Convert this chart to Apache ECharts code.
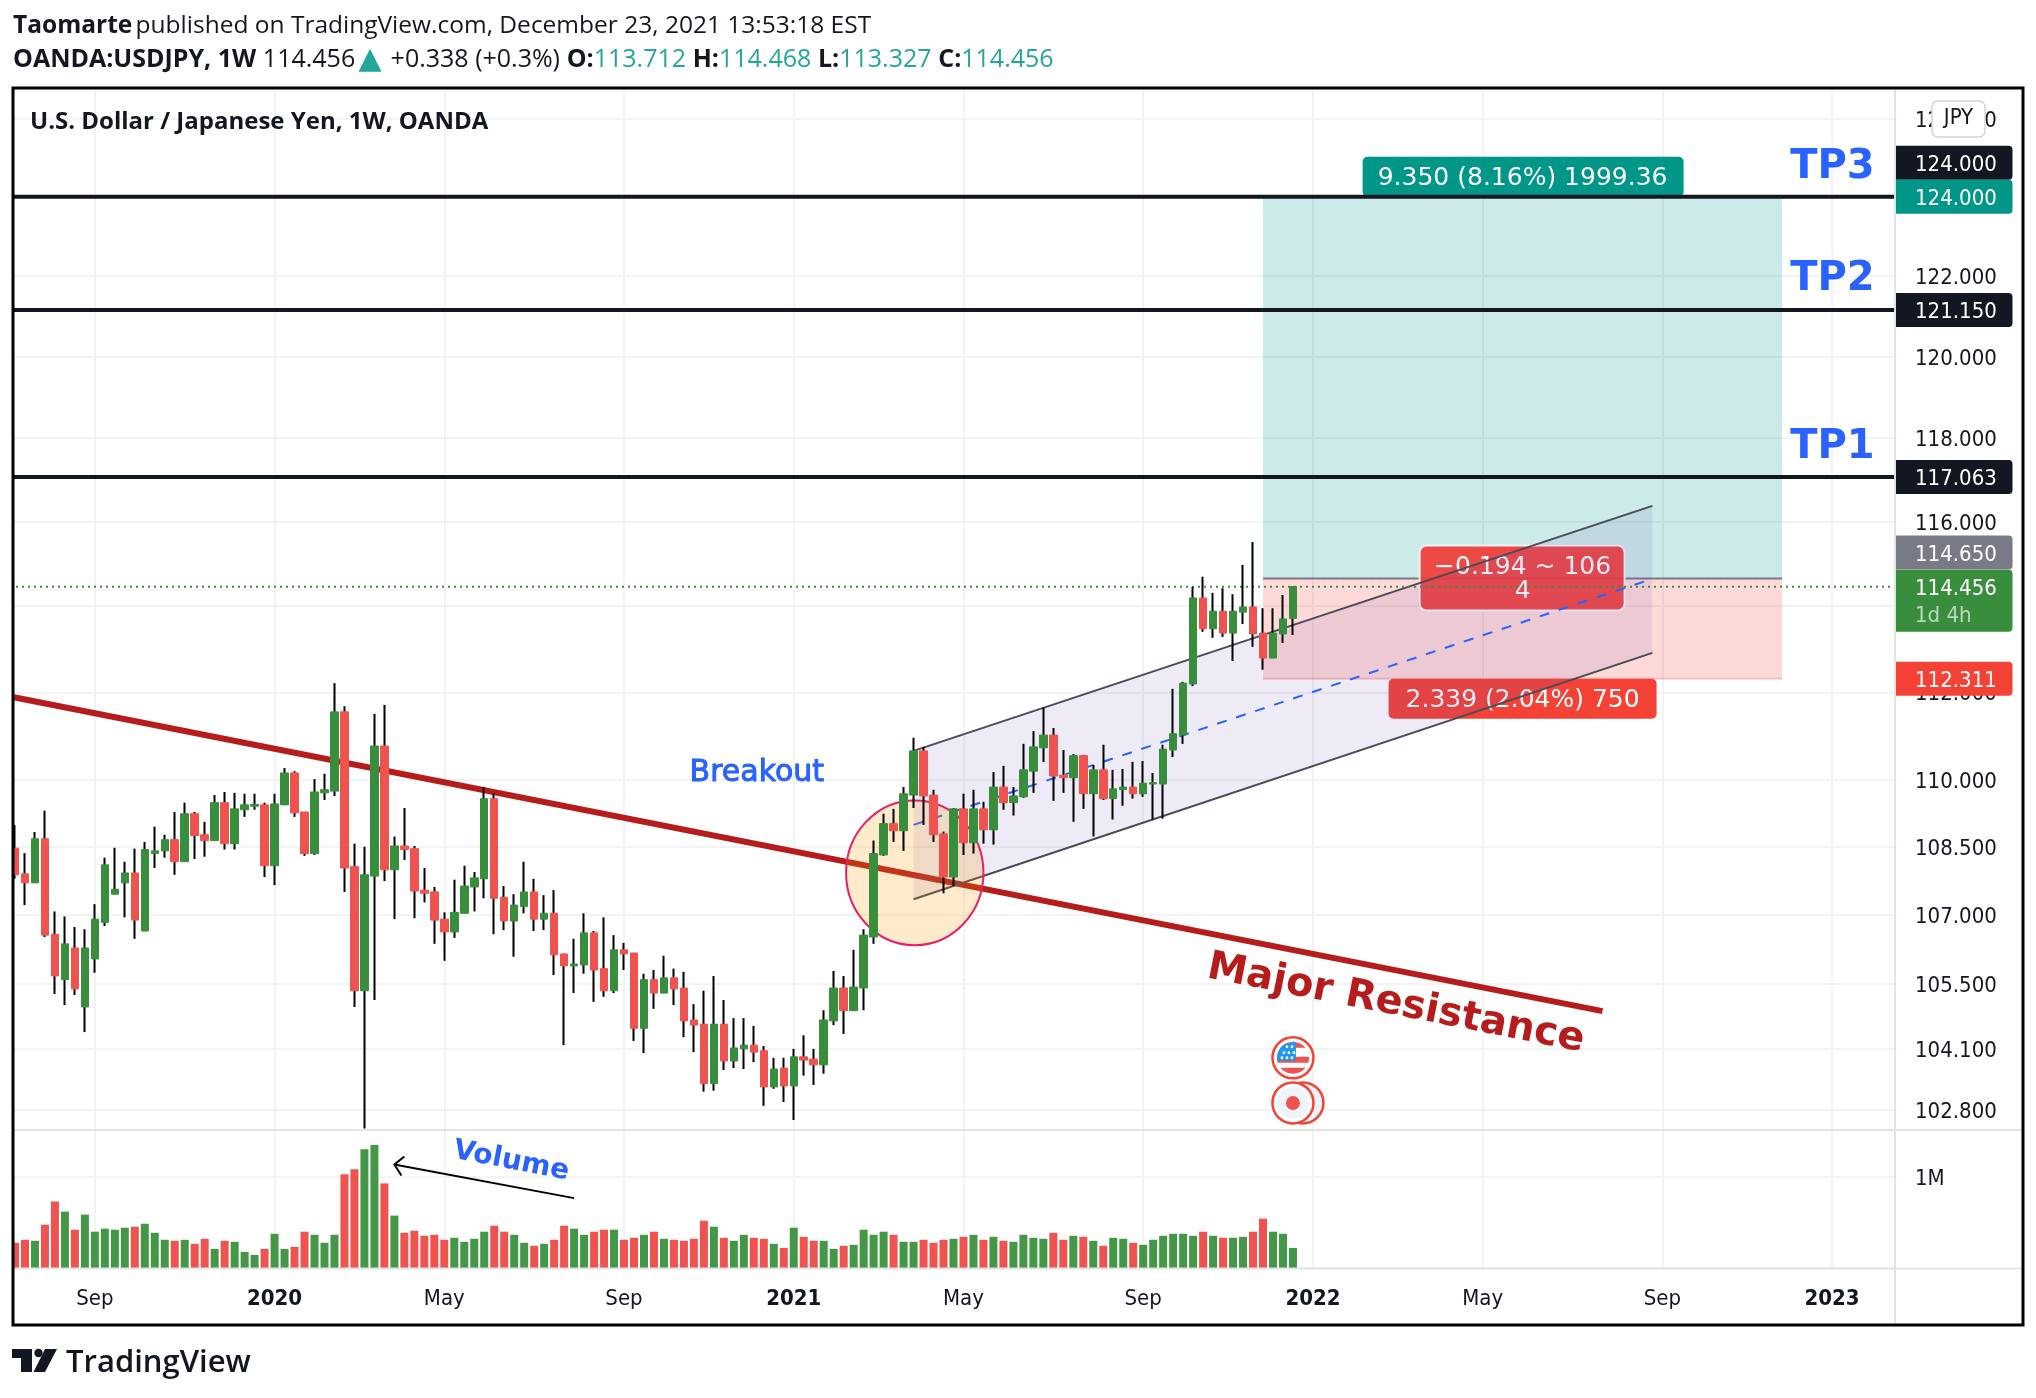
<!DOCTYPE html>
<html>
<head>
<meta charset="utf-8">
<title>USD/JPY 1W</title>
<script src="https://cdn.jsdelivr.net/npm/echarts@6/dist/echarts.min.js"></script>
<style>
    html, body { margin: 0; background: #fff; }
    #chart { width: 2036px; height: 1398px; }
</style>
</head>
<body>
<div id="chart"></div>
<script>
const opens = [
    108.47,107.90,107.70,108.68,106.57,105.58,106.27,104.99,106.03,106.83,
    107.45,107.70,107.92,106.64,108.35,108.41,108.66,108.17,109.24,108.77,
    108.64,109.49,108.57,109.33,109.41,109.44,108.08,109.44,110.16,109.28,
    108.35,109.71,109.75,111.55,108.06,105.34,107.85,110.77,107.99,108.52,
    108.46,107.54,107.50,106.90,106.62,107.03,107.61,107.79,109.58,107.38,
    106.86,107.18,107.50,106.90,107.03,106.14,105.88,105.90,106.60,105.82,
    105.34,106.23,106.16,104.53,105.58,105.29,105.62,105.40,104.71,104.62,
    103.35,104.62,103.83,104.09,104.17,104.05,103.28,103.68,103.30,103.92,
    103.87,103.75,104.69,105.40,104.91,105.40,106.51,108.32,109.02,108.86,
    109.66,110.66,109.66,108.79,107.83,109.35,108.59,109.35,108.88,109.84,
    109.49,109.62,110.20,110.73,111.02,110.11,110.05,110.55,109.69,110.23,
    109.58,109.78,109.84,109.69,109.91,109.91,110.68,111.02,112.19,114.19,
    113.47,113.88,113.37,113.86,113.98,113.37,112.79,113.35,113.712
];
const closes = [
    107.88,107.70,108.68,106.55,105.66,106.36,105.38,106.27,106.90,108.10,
    107.56,107.92,106.88,108.44,108.41,108.66,108.17,109.24,108.75,108.64,
    109.49,108.57,109.35,109.44,109.45,108.08,109.46,110.16,109.26,108.35,
    109.73,109.78,111.55,108.03,105.34,107.88,110.77,107.99,108.52,108.44,
    107.52,107.47,106.88,106.62,107.05,107.63,107.81,109.58,107.36,106.86,
    107.21,107.50,106.90,107.03,106.12,105.88,105.92,106.60,105.79,105.34,
    106.23,106.14,104.53,105.58,105.29,105.62,105.38,104.69,104.60,103.35,
    104.62,103.83,104.11,104.17,104.02,103.28,103.66,103.30,103.92,103.85,
    103.75,104.71,105.40,104.91,105.42,106.55,108.35,109.02,108.86,109.69,
    110.66,109.64,108.77,107.83,109.35,108.59,109.35,108.88,109.84,109.49,
    109.64,110.23,110.75,111.02,110.09,110.05,110.55,109.69,110.23,109.58,
    109.80,109.84,109.69,109.93,109.94,110.70,111.05,112.21,114.19,113.47,
    113.88,113.37,113.88,113.98,113.35,112.79,113.37,113.70,114.456
];
const lows = [
    107.79,107.21,107.70,106.51,105.27,105.03,105.25,104.45,105.73,106.75,
    107.45,106.94,106.47,106.64,108.03,108.26,107.88,108.17,108.23,108.28,
    108.64,108.44,108.44,109.17,109.33,107.83,107.65,109.44,109.17,108.30,
    108.32,109.55,109.64,107.50,104.99,102.40,105.14,107.74,106.90,108.21,
    106.92,107.27,106.36,105.99,106.49,107.03,107.07,107.36,106.57,106.66,
    106.08,107.03,106.64,106.66,105.68,104.17,105.29,105.71,105.10,105.21,
    105.29,105.79,104.26,104.00,104.95,105.29,105.03,104.34,104.02,103.18,
    103.20,103.64,103.68,103.66,103.81,102.88,103.24,102.96,102.58,103.52,
    103.32,103.56,104.60,104.41,104.91,104.92,106.36,108.30,108.61,108.41,
    109.37,108.99,108.61,107.47,107.63,108.32,108.35,108.57,108.55,109.33,
    109.20,109.60,109.71,110.41,109.53,109.71,109.06,109.35,108.73,109.55,
    109.11,109.42,109.58,109.62,109.11,109.13,110.52,110.82,112.14,113.40,
    113.26,113.28,112.72,113.58,113.05,112.52,112.79,113.14,113.327
];
const highs = [
    108.99,108.36,108.83,109.31,107.07,106.96,106.73,106.68,107.23,108.26,
    108.48,108.17,108.46,108.61,108.95,108.77,109.28,109.49,109.28,109.06,
    109.66,109.73,109.71,109.69,109.69,109.49,109.69,110.27,110.20,109.28,
    110.02,110.14,112.21,111.68,108.57,108.50,111.50,111.71,108.73,109.37,
    108.52,108.03,107.61,107.05,107.77,108.08,107.94,109.84,109.69,107.63,
    107.45,108.17,107.79,107.43,107.54,106.14,106.47,107.03,106.64,106.94,
    106.55,106.38,106.16,105.71,105.79,106.10,105.82,105.75,105.05,105.34,
    105.66,105.14,104.75,104.75,104.58,104.15,103.90,103.90,104.09,104.38,
    104.09,104.92,105.77,105.66,106.23,106.68,108.64,109.24,109.35,109.84,
    110.96,110.75,109.78,108.84,109.37,109.69,109.78,109.51,110.18,110.32,
    109.84,110.82,111.11,111.65,111.18,110.68,110.59,110.57,110.34,110.80,
    110.23,110.25,110.41,110.43,110.16,110.80,112.08,112.24,114.45,114.69,
    114.31,114.42,114.28,114.97,115.51,113.95,113.95,114.26,114.468
];
// volume in millions
const volumes = [
    .277,.310,.299,.476,.731,.620,.421,.587,.399,.432,
    .421,.443,.454,.487,.387,.310,.299,.310,.266,.321,
    .210,.299,.288,.177,.144,.210,.376,.210,.232,.399,
    .365,.277,.365,1.030,1.085,1.306,1.351,.930,.576,.387,
    .410,.354,.365,.310,.332,.288,.321,.399,.465,.399,
    .365,.277,.244,.266,.310,.465,.432,.365,.399,.421,
    .421,.310,.332,.365,.399,.321,.310,.299,.321,.520,
    .454,.332,.299,.365,.332,.321,.266,.221,.443,.343,
    .299,.299,.210,.244,.255,.421,.365,.399,.365,.288,
    .288,.310,.277,.310,.321,.343,.365,.310,.343,.299,
    .288,.365,.332,.321,.387,.310,.354,.343,.299,.244,
    .332,.321,.277,.255,.310,.354,.376,.376,.354,.399,
    .354,.332,.332,.343,.399,.542,.399,.376,.221
];

const priceTicks = [126, 124, 122, 120, 118, 116, 114, 112, 110, 108.5, 107, 105.5, 104.1, 102.8];
const tickWeeks = [8, 26, 43, 61, 78, 95, 113, 130, 147, 165, 182];
const tickLabels = ['Sep', '2020', 'May', 'Sep', '2021', 'May', 'Sep', '2022', 'May', 'Sep', '2023'];

const targetLevels = [124, 121.15, 117.063];
const targetNames = ['TP3', 'TP2', 'TP1'];
const targetTextPrices = [124.75, 121.9, 117.78];
const lastPrice = 114.456;
const entryPrice = 114.65;
const stopPrice = 112.311;
const positionWeeks = [125, 177];
// trend line and channel: [week, price]
const resistanceLine = [[0, 111.88], [159, 104.90]];
const channelTop = [[90, 110.66], [164, 116.37]];
const channelMid = [[90, 108.99], [164, 114.64]];
const channelLow = [[90, 107.34], [164, 112.91]];
const breakoutWeeks = [83, 97];
const breakoutPrices = [109.54, 106.33];

const RED = '#ef5350';
const GREEN = '#388e3c';
const VOL_GREEN = '#439746';
const INK = '#131722';
const BLUE = '#2962ff';
const GRID = '#f2f3f3';
const SEP = '#e2e3e5';
const AXIS_FONT = '"DejaVu Sans Condensed", "DejaVu Sans"';
const DRAW_FONT = '"DejaVu Sans"';
const UI_FONT = '"Open Sans"';

// weekly bars, first one on 8 Jul 2019, running on into the empty space on the right
const weeks = [];
for (let i = 0; i < 189; i++) {
    const d = new Date(Date.UTC(2019, 6, 8 + i * 7));
    weeks.push(d.toISOString().slice(0, 10));
}

const isTickWeek = (i) => tickWeeks.indexOf(i) >= 0;
const weekLabel = (val) => {
    const text = tickLabels[tickWeeks.indexOf(weeks.indexOf(val))];
    return /^\d/.test(text) ? '{year|' + text + '}' : text;
};

const xAxisBase = {
    type: 'category',
    data: weeks,
    axisLine: { show: false },
    axisTick: { show: false },
    splitLine: {
        show: true,
        interval: isTickWeek,
        alignWithLabel: true,
        lineStyle: { color: GRID, width: 2 }
    }
};

const chart = echarts.init(document.getElementById('chart'));

const rect = (x, y, w, h, fill, r, extra) => ({
    type: 'rect',
    shape: { x, y, width: w, height: h, r: r || 0 },
    style: Object.assign({ fill }, extra || {})
});
const txt = (text, x, y, fill, font, align) => ({
    type: 'text',
    style: { text, x, y, fill, font, textAlign: align || 'center', textVerticalAlign: 'middle' }
});
const seg = (a, b, stroke, lineWidth, lineDash) => ({
    type: 'line',
    shape: { x1: a[0], y1: a[1], x2: b[0], y2: b[1] },
    style: { stroke, lineWidth, lineDash: lineDash || null, fill: null }
});

// long / short position boxes and their value labels, underneath everything else
const renderPosition = (params, api) => {
    const tl = api.coord([positionWeeks[0], targetLevels[0]]);
    const em = api.coord([positionWeeks[1], entryPrice]);
    const br = api.coord([positionWeeks[1], stopPrice]);
    const w = em[0] - tl[0];
    const cx = api.coord([151, entryPrice])[0];
    const font = '25px ' + DRAW_FONT;
    return {
        type: 'group',
        children: [
            rect(tl[0], tl[1], w, em[1] - tl[1], 'rgba(0,150,136,0.2)'),
            rect(tl[0], em[1], w, br[1] - em[1], 'rgba(244,67,54,0.2)'),
            seg([tl[0], em[1]], [em[0], em[1]], '#787b86', 2),
            seg([tl[0], br[1]], [em[0], br[1]], 'rgba(244,67,54,0.25)', 2),
            rect(cx - 160, tl[1] - 40, 321, 40, '#009688', 5),
            txt('9.350 (8.16%) 1999.36', cx, tl[1] - 18, '#fff', font),
            rect(cx - 134, br[1], 268, 40, '#f44336', 5),
            txt('2.339 (2.04%) 750', cx, br[1] + 22, '#fff', font),
            rect(cx - 103, em[1] - 33, 205, 65, 'rgba(240,60,55,0.92)', 7, { stroke: '#f4f4fa', lineWidth: 2 }),
            txt('\u22120.194 ~ 106', cx, em[1] - 11, '#fff', font),
            txt('4', cx, em[1] + 13, '#fff', font)
        ]
    };
};

// horizontal targets, trend line, channel and the breakout circle
const renderDrawings = (params, api) => {
    const g = params.coordSys;
    const left = g.x, right = g.x + g.width;
    const children = [];
    const t = channelTop.map((p) => api.coord(p));
    const m = channelMid.map((p) => api.coord(p));
    const l = channelLow.map((p) => api.coord(p));
    const r = resistanceLine.map((p) => api.coord(p));
    const slope = (r[1][1] - r[0][1]) / (r[1][0] - r[0][0]);
    const rStart = [left, r[0][1] + (left - r[0][0]) * slope];

    targetLevels.forEach((p) => {
        const y = api.coord([0, p])[1];
        children.push(seg([left, y], [right, y], INK, 4));
    });
    children.push(seg(rStart, r[1], '#b71c1c', 6));
    children.push({
        type: 'polygon',
        shape: { points: [t[0], t[1], l[1], l[0]] },
        style: { fill: 'rgba(100,70,180,0.11)' }
    });
    children.push(seg(t[0], t[1], '#4a4a58', 2));
    children.push(seg(l[0], l[1], '#4a4a58', 2));
    children.push(seg(m[0], m[1], BLUE, 2, [10, 10]));

    const cl = api.coord([breakoutWeeks[0], breakoutPrices[0]]);
    const cr = api.coord([breakoutWeeks[1], breakoutPrices[1]]);
    children.push({
        type: 'ellipse',
        shape: { cx: (cl[0] + cr[0]) / 2 + 1.2, cy: (cl[1] + cr[1]) / 2, rx: (cr[0] - cl[0]) / 2 - 1.2, ry: (cr[1] - cl[1]) / 2 },
        style: { fill: 'rgba(255,152,0,0.2)', stroke: '#e91e63', lineWidth: 2 }
    });
    const ly = api.coord([0, lastPrice])[1];
    children.push(seg([left, ly], [right, ly], GREEN, 2, [2, 4]));
    return { type: 'group', children };
};

// a filled slice of a circle between two heights, for the little flag
const chord = (cx, cy, r, y1, y2) => {
    const pts = [];
    for (let k = 0; k <= 6; k++) {
        const y = y1 + (y2 - y1) * k / 6;
        pts.push([cx + Math.sqrt(Math.max(r * r - y * y, 0)), cy + y]);
    }
    for (let k = 6; k >= 0; k--) {
        const y = y1 + (y2 - y1) * k / 6;
        pts.push([cx - Math.sqrt(Math.max(r * r - y * y, 0)), cy + y]);
    }
    return pts;
};

// texts and event markers, on top of the candles
const renderNotes = (params, api) => {
    const children = [];
    targetNames.forEach((name, i) => {
        const p = api.coord([178, targetTextPrices[i]]);
        children.push(txt(name, p[0] - 2, p[1], BLUE, 'bold 40px ' + DRAW_FONT, 'left'));
    });
    const b = api.coord([74, 110.15]);
    const breakout = txt('Breakout', b[0] + 3, b[1], BLUE, '30px ' + DRAW_FONT);
    breakout.style.stroke = BLUE;
    breakout.style.lineWidth = 1;
    children.push(breakout);
    const mr = api.coord([138, 105.05]);
    const major = txt('Major Resistance', 0, 0, '#b71c1c', 'bold 39.7px ' + DRAW_FONT);
    major.x = mr[0] + 3;
    major.y = mr[1];
    major.rotation = -0.195;
    children.push(major);

    const f = api.coord([128, 103.9]);
    const e1 = api.coord([129, 102.94]);
    const e0 = api.coord([128, 102.94]);
    const ring = (c, fill) => ({
        type: 'circle',
        shape: { cx: c[0], cy: c[1], r: 20.5 },
        style: { fill, stroke: '#f44336', lineWidth: 2.5 }
    });
    children.push(ring(f, '#fff'));
    [[-16, -10], [-1, 5], [10, 16]].forEach((s) => {
        children.push({ type: 'polygon', shape: { points: chord(f[0], f[1], 16, s[0], s[1]) }, style: { fill: RED } });
    });
    const canton = [];
    for (let k = 0; k <= 6; k++) {
        const y = -16 + k * 19 / 6;
        canton.push([f[0] - Math.sqrt(Math.max(256 - y * y, 0)), f[1] + y]);
    }
    canton.push([f[0] + 3, f[1] + 3], [f[0] + 3, f[1] - 15.7]);
    children.push({ type: 'polygon', shape: { points: canton }, style: { fill: '#2196f3' } });
    [[-6, -11], [-1, -11], [-9, -5], [-4, -5], [1, -5], [-11, 0], [-6, 0], [-1, 0]].forEach((s) => {
        children.push({ type: 'circle', shape: { cx: f[0] + s[0], cy: f[1] + s[1], r: 1.4 }, style: { fill: '#fff' } });
    });
    children.push(ring(e1, '#f0f3fa'));
    children.push(ring(e0, '#fff'));
    children.push({ type: 'circle', shape: { cx: e0[0], cy: e0[1], r: 16 }, style: { fill: '#f0f3fa' } });
    children.push({ type: 'circle', shape: { cx: e0[0], cy: e0[1], r: 7 }, style: { fill: RED } });
    return { type: 'group', children };
};

// price tags in the scale column
const renderTags = (params, api) => {
    const g = params.coordSys;
    const x = g.x + g.width - 2.5;
    const font = '22px ' + AXIS_FONT;
    const tag = (y, h, text, fill) => [
        rect(x, y - h / 2, 118, h, fill, [0, 4, 4, 0]),
        txt(text, 1915, y + 2.5, '#fff', font, 'left')
    ];
    const y = (p) => api.coord([0, p])[1];
    const ly = y(lastPrice);
    return {
        type: 'group',
        children: [].concat(
            tag(y(124) - 34, 34, '124.000', INK),
            tag(y(124), 34, '124.000', '#009688'),
            tag(y(121.15), 34, '121.150', INK),
            tag(y(117.063), 34, '117.063', INK),
            tag(y(entryPrice) - 26, 34, '114.650', '#787b86'),
            [rect(x, ly - 17, 118, 62, GREEN, [0, 4, 4, 0]),
             txt('114.456', 1915, ly + 2.5, '#fff', font, 'left'),
             txt('1d 4h', 1915, ly + 30, 'rgba(255,255,255,0.65)', font, 'left')],
            tag(y(stopPrice), 34, '112.311', '#f44336'),
            [rect(1932, 101, 53, 36, '#fff', 6, { stroke: '#d1d4dc', lineWidth: 1.5 }),
             txt('JPY', 1958.5, 118, INK, font)]
        )
    };
};

// hand-drawn volume arrow lives in the lower pane
const renderVolumeNote = (params, api) => {
    const tip = api.coord([38, 1.137]);
    const tail = api.coord([56, 0.768]);
    const label = api.coord([50, 1.173]);
    const word = txt('Volume', 0, 0, BLUE, 'bold 28px ' + DRAW_FONT);
    word.x = label[0] - 3;
    word.y = label[1];
    word.rotation = -0.19;
    return {
        type: 'group',
        children: [
            seg(tip, tail, '#000', 2),
            { type: 'polyline', shape: { points: [[tip[0] + 10, tip[1] - 8], tip, [tip[0] + 7, tip[1] + 11]] }, style: { stroke: '#000', lineWidth: 2, fill: null } },
            word
        ]
    };
};

const annotation = (name, renderItem, z, pane) => ({
    name,
    type: 'custom',
    xAxisIndex: pane || 0,
    yAxisIndex: pane || 0,
    z,
    silent: true,
    clip: false,
    data: [[0, pane ? 1 : 110]],
    renderItem
});

// axis texts sit a little under their grid line, as in the reference
const scaleRich = { v: { color: INK, fontFamily: AXIS_FONT, fontSize: 22, padding: [5, 0, 0, 0] } };

const option = {
    animation: false,
    backgroundColor: '#fff',
    tooltip: { show: false },
    grid: [
        { left: 10, top: 88, width: 1887, height: 1042 },
        { left: 10, top: 1130, width: 1887, height: 138 }
    ],
    xAxis: [
        Object.assign({}, xAxisBase, { gridIndex: 0, axisLabel: { show: false } }),
        Object.assign({}, xAxisBase, {
            gridIndex: 1,
            axisLabel: {
                interval: isTickWeek,
                formatter: weekLabel,
                color: INK,
                fontFamily: AXIS_FONT,
                fontSize: 22,
                margin: 20,
                rich: { year: { color: INK, fontFamily: AXIS_FONT, fontSize: 22, fontWeight: 'bold' } }
            }
        })
    ],
    yAxis: [
        {
            type: 'log',
            gridIndex: 0,
            position: 'right',
            min: 102.37,
            max: 126.8,
            axisLine: { show: false },
            axisTick: { show: false, customValues: priceTicks },
            splitLine: { show: true, customValues: priceTicks, lineStyle: { color: GRID, width: 2 } },
            axisLabel: {
                customValues: priceTicks,
                formatter: (v) => '{v|' + Number(v).toFixed(3) + '}',
                margin: 18,
                rich: scaleRich
            }
        },
        {
            type: 'value',
            gridIndex: 1,
            position: 'right',
            min: 0,
            max: 1.517,
            interval: 1,
            axisLine: { show: false },
            axisTick: { show: false },
            splitLine: { show: true, lineStyle: { color: GRID, width: 2 } },
            axisLabel: {
                formatter: (v) => (v === 1 ? '{v|1M}' : ''),
                margin: 18,
                rich: scaleRich
            }
        }
    ],
    series: [
        annotation('position', renderPosition, 3),
        annotation('drawings', renderDrawings, 4),
        {
            name: 'wicks',
            type: 'candlestick',
            xAxisIndex: 0,
            yAxisIndex: 0,
            z: 5,
            barWidth: 1,
            silent: true,
            itemStyle: { color: '#000', color0: '#000', borderColor: '#000', borderColor0: '#000', borderWidth: 2 },
            data: opens.map((o, i) => [o, closes[i], lows[i], highs[i]])
        },
        {
            name: 'USDJPY',
            type: 'candlestick',
            xAxisIndex: 0,
            yAxisIndex: 0,
            z: 6,
            barWidth: 8,
            silent: true,
            itemStyle: { color: GREEN, color0: RED, borderColor: GREEN, borderColor0: RED, borderWidth: 1 },
            data: opens.map((o, i) => [o, closes[i], Math.min(o, closes[i]), Math.max(o, closes[i])])
        },
        {
            name: 'Volume',
            type: 'bar',
            xAxisIndex: 1,
            yAxisIndex: 1,
            barWidth: 8,
            silent: true,
            itemStyle: {
                color: (p) => (closes[p.dataIndex] >= opens[p.dataIndex] ? VOL_GREEN : RED)
            },
            data: volumes
        },
        annotation('notes', renderNotes, 8),
        annotation('volume note', renderVolumeNote, 8, 1),
        annotation('tags', renderTags, 9)
    ],
    graphic: [
        { type: 'rect', z: 50, shape: { x: 0, y: 80, width: 12.5, height: 1250 }, style: { fill: '#fff' } },
        { type: 'line', z: 51, shape: { x1: 1895, y1: 88, x2: 1895, y2: 1325 }, style: { stroke: SEP, lineWidth: 2 } },
        { type: 'line', z: 51, shape: { x1: 13, y1: 1130, x2: 2023, y2: 1130 }, style: { stroke: SEP, lineWidth: 2 } },
        { type: 'line', z: 51, shape: { x1: 13, y1: 1268.5, x2: 2023, y2: 1268.5 }, style: { stroke: SEP, lineWidth: 2 } },
        { type: 'rect', z: 52, shape: { x: 13, y: 88, width: 2010, height: 1237 }, style: { fill: null, stroke: '#000', lineWidth: 3 } },
        {
            type: 'text', z: 60, x: 13, y: 26,
            style: {
                text: '{b|Taomarte} {n|published on TradingView.com, December 23, 2021 13:53:18 EST}',
                verticalAlign: 'middle',
                rich: {
                    b: { font: 'bold 24.5px ' + UI_FONT, fill: INK },
                    n: { font: '24.5px ' + UI_FONT, fill: INK }
                }
            }
        },
        {
            type: 'text', z: 60, x: 13, y: 60,
            style: {
                text: '{b|OANDA:USDJPY, 1W}  {n|114.456} {a|\u25B2}{n|+0.338 (+0.3%)}  {b|O:}{t|113.712}  {b|H:}{t|114.468}  {b|L:}{t|113.327}  {b|C:}{t|114.456}',
                verticalAlign: 'middle',
                rich: {
                    b: { font: 'bold 25px ' + UI_FONT, fill: INK },
                    n: { font: '25px ' + UI_FONT, fill: INK },
                    t: { font: '25px ' + UI_FONT, fill: '#26a69a' },
                    a: { font: '30px ' + DRAW_FONT, fill: '#26a69a', padding: [0, 9, 0, 0] }
                }
            }
        },
        {
            type: 'text', z: 60, x: 30, y: 122,
            style: { text: 'U.S. Dollar / Japanese Yen, 1W, OANDA', font: 'bold 24px ' + UI_FONT, fill: INK, verticalAlign: 'middle' }
        },
        { type: 'polygon', z: 60, shape: { points: [[12, 1349], [32, 1349], [32, 1372], [21, 1372], [21, 1358], [12, 1358]] }, style: { fill: INK } },
        { type: 'circle', z: 60, shape: { cx: 38.5, cy: 1353, r: 4.2 }, style: { fill: INK } },
        { type: 'polygon', z: 60, shape: { points: [[45, 1349], [57, 1349], [45, 1372], [33.5, 1372]] }, style: { fill: INK } },
        {
            type: 'text', z: 60, x: 66, y: 1363,
            style: { text: 'TradingView', font: '600 31px ' + UI_FONT, fill: INK, verticalAlign: 'middle' }
        }
    ]
};

chart.setOption(option);
</script>
</body>
</html>
